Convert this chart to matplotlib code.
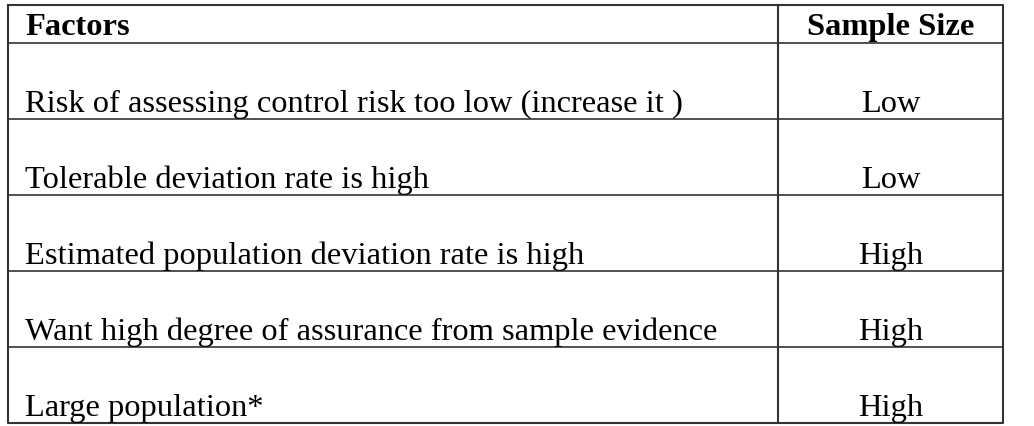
import matplotlib
matplotlib.use("Agg")
import matplotlib.pyplot as plt

headers = ["Factors", "Sample Size"]
factors = ["Risk of assessing control risk too low (increase it )",
           "Tolerable deviation rate is high",
           "Estimated population deviation rate is high",
           "Want high degree of assurance from sample evidence",
           "Large population*"]
sizes = ["Low", "Low", "High", "High", "High"]

W, H = 1034, 426
fig = plt.figure(figsize=(W/100, H/100), dpi=100)
ax = fig.add_axes([0, 0, 1, 1])
ax.set_xlim(0, W); ax.set_ylim(H, 0); ax.axis("off")

L, R, D, T = 8, 1003, 778, 5
hdr_b = 43
rh = 76
lc = "#333333"
fs = 23.4
font = "Liberation Serif"
bottom = hdr_b + rh*len(factors)

ax.plot([L, R, R, L, L], [T, T, bottom, bottom, T], color=lc, lw=1.5)
ax.plot([D, D], [T, bottom], color=lc, lw=1.5)
ax.plot([L, R], [hdr_b, hdr_b], color=lc, lw=1.2)
for i in range(1, len(factors)):
    y = hdr_b + rh*i
    ax.plot([L, R], [y, y], color=lc, lw=1.2)

ax.text(25, 35, headers[0], fontsize=fs, fontweight="bold", family=font, va="baseline")
ax.text((D+R)/2, 35, headers[1], fontsize=fs, fontweight="bold", family=font, va="baseline", ha="center")
for i, (f, s) in enumerate(zip(factors, sizes)):
    yb = hdr_b + rh*(i+1) - 7
    ax.text(25, yb, f, fontsize=fs, family=font, va="baseline")
    ax.text((D+R)/2, yb, s, fontsize=fs, family=font, va="baseline", ha="center")

fig.savefig("out.png", dpi=100)
